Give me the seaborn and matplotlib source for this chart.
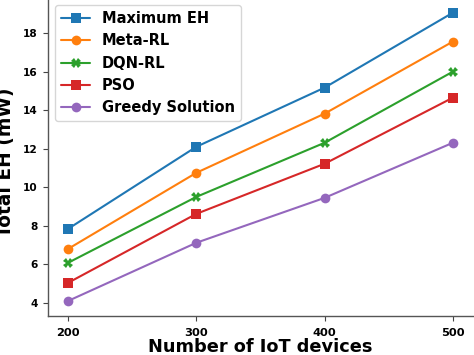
import pandas as pd
import seaborn as sns
import matplotlib
matplotlib.use('Agg')
import matplotlib.pyplot as plt

# Data
devices = [200, 300, 400, 500]
max_eh = [7.84, 12.10, 15.17, 19.06]
meta_rl = [6.80, 10.75, 13.82, 17.56]
dqn_rl = [6.08, 9.50, 12.31, 16.00]
pso = [5.04, 8.62, 11.22, 14.65]
greedy = [4.10, 7.12, 9.45, 12.31]

methods = ["Maximum EH", "Meta-RL", "DQN-RL", "PSO", "Greedy Solution"]
series = [max_eh, meta_rl, dqn_rl, pso, greedy]

rows = []
for name, vals in zip(methods, series):
    for d, v in zip(devices, vals):
        rows.append({"devices": d, "eh": v, "method": name})
df = pd.DataFrame(rows)

sns.set_style("ticks")
plt.rcParams['font.family'] = ['DejaVu Sans']
plt.rcParams['text.color'] = 'black'

fig = plt.figure(figsize=(4.74, 3.55), dpi=100)
ax = fig.add_axes([48 / 474, 39 / 355, 427 / 474, 318 / 355])

palette = ["#1f77b4", "#ff7f0e", "#2ca02c", "#d62728", "#9467bd"]
markers = {"Maximum EH": "s", "Meta-RL": "o", "DQN-RL": "X",
           "PSO": "s", "Greedy Solution": "o"}

sns.lineplot(data=df, x="devices", y="eh", hue="method", style="method",
             hue_order=methods, style_order=methods, palette=palette,
             markers=markers, dashes=False, markersize=7, linewidth=1.5,
             markeredgewidth=0, ax=ax)

ax.set_xlim(184.4, 517.2)
ax.set_ylim(3.32, 19.82)
ax.set_xticks(devices)
ax.set_yticks([4, 6, 8, 10, 12, 14, 16, 18])
for lab in ax.get_xticklabels():
    lab.set_fontweight('bold')
    lab.set_fontsize(8.2)
for lab in ax.get_yticklabels():
    lab.set_fontweight('bold')
    lab.set_fontsize(7.6)
ax.tick_params(length=3.5, width=0.8, colors='#444444', labelcolor='black')
ax.tick_params(axis='y', pad=4)
ax.tick_params(axis='x', pad=5)
for sp in ax.spines.values():
    sp.set_color('#555555')
    sp.set_linewidth(1.0)

ax.set_xlabel("Number of IoT devices", fontsize=12.8, fontweight='bold',
              color='black')
ax.set_ylabel("Total EH (mW)", fontsize=13.4, fontweight='bold',
              color='black')
ax.xaxis.set_label_coords(0.496, -0.068)
ax.yaxis.set_label_coords(-0.078, 0.485)

leg = ax.legend(loc='upper left', prop={'weight': 'bold', 'size': 10.5},
                handlelength=2.0, frameon=True)
leg.get_frame().set_edgecolor('#cccccc')
for t in leg.get_texts():
    t.set_color('black')

fig.savefig("out.png", dpi=100)
